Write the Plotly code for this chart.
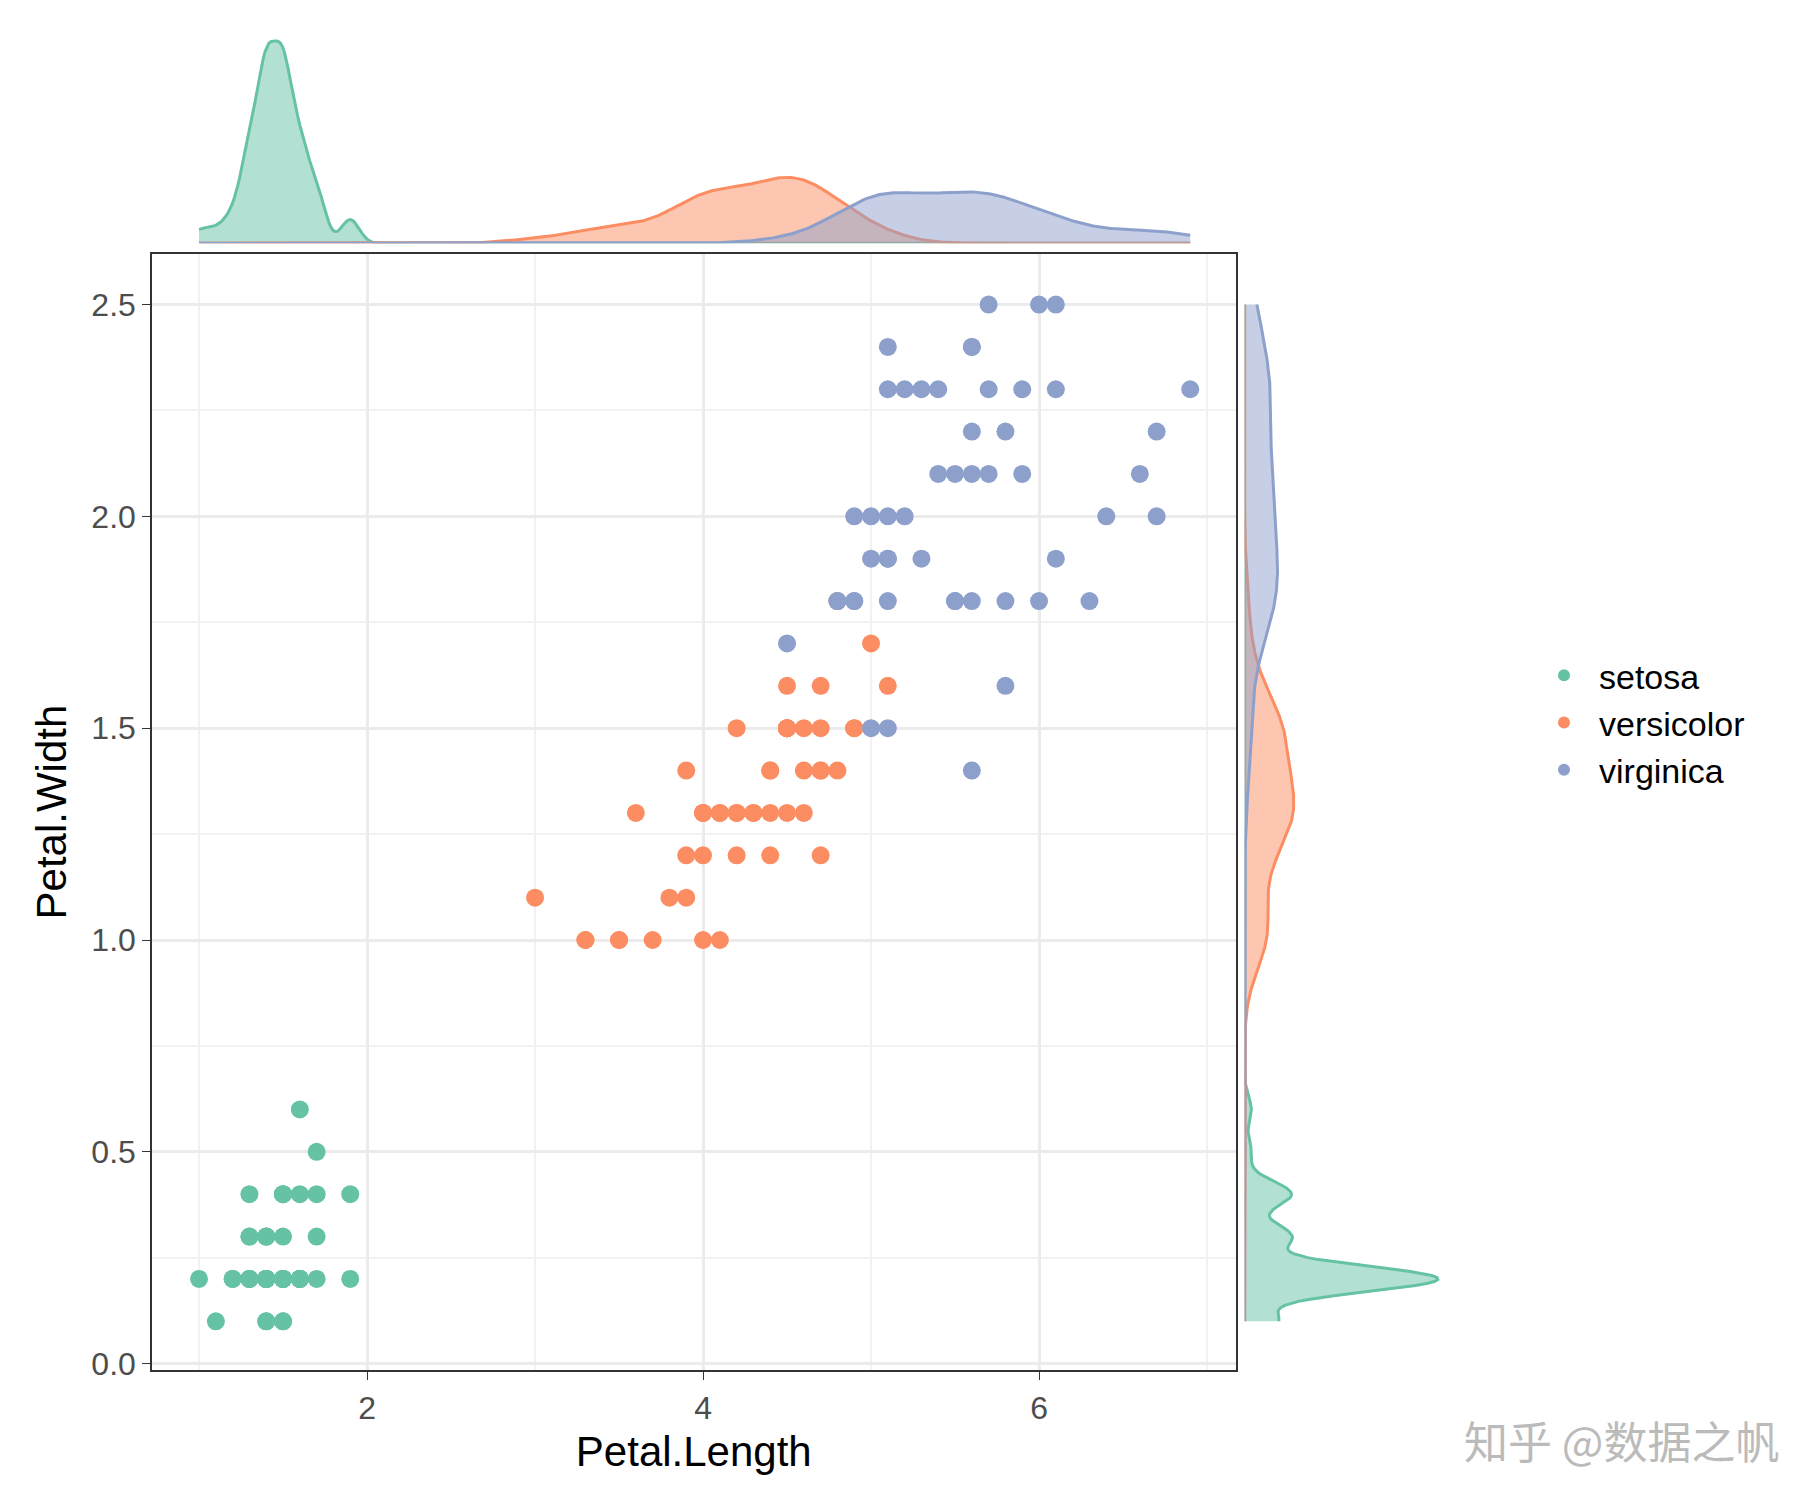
import numpy as np
import plotly.graph_objects as go

species = ["setosa", "versicolor", "virginica"]
colors = ["#66C2A5", "#FC8D62", "#8DA0CB"]

petal_length = {
    "setosa": [1.4,1.4,1.3,1.5,1.4,1.7,1.4,1.5,1.4,1.5,1.5,1.6,1.4,1.1,1.2,1.5,1.3,1.4,1.7,1.5,1.7,1.5,1.0,1.7,1.9,
               1.6,1.6,1.5,1.4,1.6,1.6,1.5,1.5,1.4,1.5,1.2,1.3,1.4,1.3,1.5,1.3,1.3,1.3,1.6,1.9,1.4,1.6,1.4,1.5,1.4],
    "versicolor": [4.7,4.5,4.9,4.0,4.6,4.5,4.7,3.3,4.6,3.9,3.5,4.2,4.0,4.7,3.6,4.4,4.5,4.1,4.5,3.9,4.8,4.0,4.9,4.7,4.3,
                   4.4,4.8,5.0,4.5,3.5,3.8,3.7,3.9,5.1,4.5,4.5,4.7,4.4,4.1,4.0,4.4,4.6,4.0,3.3,4.2,4.2,4.2,4.3,3.0,4.1],
    "virginica": [6.0,5.1,5.9,5.6,5.8,6.6,4.5,6.3,5.8,6.1,5.1,5.3,5.5,5.0,5.1,5.3,5.5,6.7,6.9,5.0,5.7,4.9,6.7,4.9,5.7,
                  6.0,4.8,4.9,5.6,5.8,6.1,6.4,5.6,5.1,5.6,6.1,5.6,5.5,4.8,5.4,5.6,5.1,5.1,5.9,5.7,5.2,5.0,5.2,5.4,5.1],
}
petal_width = {
    "setosa": [0.2,0.2,0.2,0.2,0.2,0.4,0.3,0.2,0.2,0.1,0.2,0.2,0.1,0.1,0.2,0.4,0.4,0.3,0.3,0.3,0.2,0.4,0.2,0.5,0.2,
               0.2,0.4,0.2,0.2,0.2,0.2,0.4,0.1,0.2,0.2,0.2,0.2,0.1,0.2,0.2,0.3,0.3,0.2,0.6,0.4,0.3,0.2,0.2,0.2,0.2],
    "versicolor": [1.4,1.5,1.5,1.3,1.5,1.3,1.6,1.0,1.3,1.4,1.0,1.5,1.0,1.4,1.3,1.4,1.5,1.0,1.5,1.1,1.8,1.3,1.5,1.2,1.3,
                   1.4,1.4,1.7,1.5,1.0,1.1,1.0,1.2,1.6,1.5,1.6,1.5,1.3,1.3,1.3,1.2,1.4,1.2,1.0,1.3,1.2,1.3,1.3,1.1,1.3],
    "virginica": [2.5,1.9,2.1,1.8,2.2,2.1,1.7,1.8,1.8,2.5,2.0,1.9,2.1,2.0,2.4,2.3,1.8,2.2,2.3,1.5,2.3,2.0,2.0,1.8,2.1,
                  1.8,1.8,1.8,2.1,1.6,1.9,2.0,2.2,1.5,1.4,2.3,2.4,1.8,1.8,2.1,2.4,2.3,1.9,2.3,2.5,2.3,1.9,2.0,2.3,1.8],
}


def kde(values, lo, hi):
    # gaussian kde with R's bw.nrd0
    v = np.asarray(values)
    q75, q25 = np.percentile(v, [75, 25])
    bw = 0.9 * min(v.std(ddof=1), (q75 - q25) / 1.34) * len(v) ** -0.2
    grid = np.linspace(lo, hi, 512)
    d = np.exp(-0.5 * ((grid[:, None] - v[None, :]) / bw) ** 2).sum(1) / (len(v) * bw * np.sqrt(2 * np.pi))
    return grid, d


def rgba(h, a):
    return f"rgba({int(h[1:3], 16)},{int(h[3:5], 16)},{int(h[5:7], 16)},{a})"


all_l = sum(petal_length.values(), [])
all_w = sum(petal_width.values(), [])

fig = go.Figure()
font = "Liberation Sans, Arial, sans-serif"

for s, c in zip(species, colors):
    fig.add_trace(go.Scatter(x=petal_length[s], y=petal_width[s], mode="markers", name=s,
                             marker=dict(color=c, size=18), xaxis="x", yaxis="y"))
for s, c in zip(species, colors):
    g, d = kde(petal_length[s], min(all_l), max(all_l))
    fig.add_trace(go.Scatter(x=g, y=d, mode="lines", fill="tozeroy", line=dict(color=c, width=3),
                             fillcolor=rgba(c, 0.5), showlegend=False, xaxis="x2", yaxis="y2"))
    g, d = kde(petal_width[s], min(all_w), max(all_w))
    fig.add_trace(go.Scatter(x=d, y=g, mode="lines", fill="tozerox", line=dict(color=c, width=3),
                             fillcolor=rgba(c, 0.5), showlegend=False, xaxis="x3", yaxis="y3"))

xr = [0.72, 7.17]
yr = [-0.016, 2.62]
xdom = [0.08, 0.682]
ydom = [0.085, 0.835]
axstyle = dict(showgrid=True, gridcolor="#EBEBEB", gridwidth=2.5, zeroline=False,
               showline=True, linecolor="#333333", linewidth=1.5, mirror=True,
               ticks="outside", ticklen=8, tickcolor="#333333", tickfont=dict(size=32))

fig.update_layout(
    width=1800, height=1500, plot_bgcolor="white", paper_bgcolor="white",
    margin=dict(l=0, r=0, t=0, b=0),
    font=dict(family=font, size=28, color="#4D4D4D"),
    xaxis=dict(domain=xdom, range=xr, tickvals=[2, 4, 6], **axstyle,
               minor=dict(tickvals=[1, 3, 5, 7], showgrid=True, gridcolor="#F2F2F2", gridwidth=1.5, ticks=""),
               title=dict(text="Petal.Length", font=dict(size=42, color="black"), standoff=12)),
    yaxis=dict(domain=ydom, range=yr, tickvals=[0, 0.5, 1, 1.5, 2, 2.5],
               ticktext=["0.0", "0.5", "1.0", "1.5", "2.0", "2.5"], **axstyle,
               minor=dict(tickvals=[0.25, 0.75, 1.25, 1.75, 2.25], showgrid=True, gridcolor="#F2F2F2",
                          gridwidth=1.5, ticks=""),
               title=dict(text="Petal.Width", font=dict(size=42, color="black"), standoff=12)),
    xaxis2=dict(domain=xdom, range=xr, visible=False, anchor="y2"),
    yaxis2=dict(domain=[0.842, 0.985], visible=False, anchor="x2", rangemode="tozero"),
    xaxis3=dict(domain=[0.687, 0.80], visible=False, anchor="y3", rangemode="tozero"),
    yaxis3=dict(domain=ydom, range=yr, visible=False, anchor="x3"),
    legend=dict(x=0.845, y=0.52, yanchor="middle", font=dict(size=34, color="black"),
                itemsizing="constant", tracegroupgap=40, itemwidth=60),
    annotations=[dict(text="知乎 @数据之帆", x=0.985, y=0.038, xref="paper", yref="paper",
                      xanchor="right", yanchor="middle", showarrow=False,
                      font=dict(family="Noto Sans CJK SC", size=44, color="#BBBBBB"))],
)

fig.write_html("out.html")
